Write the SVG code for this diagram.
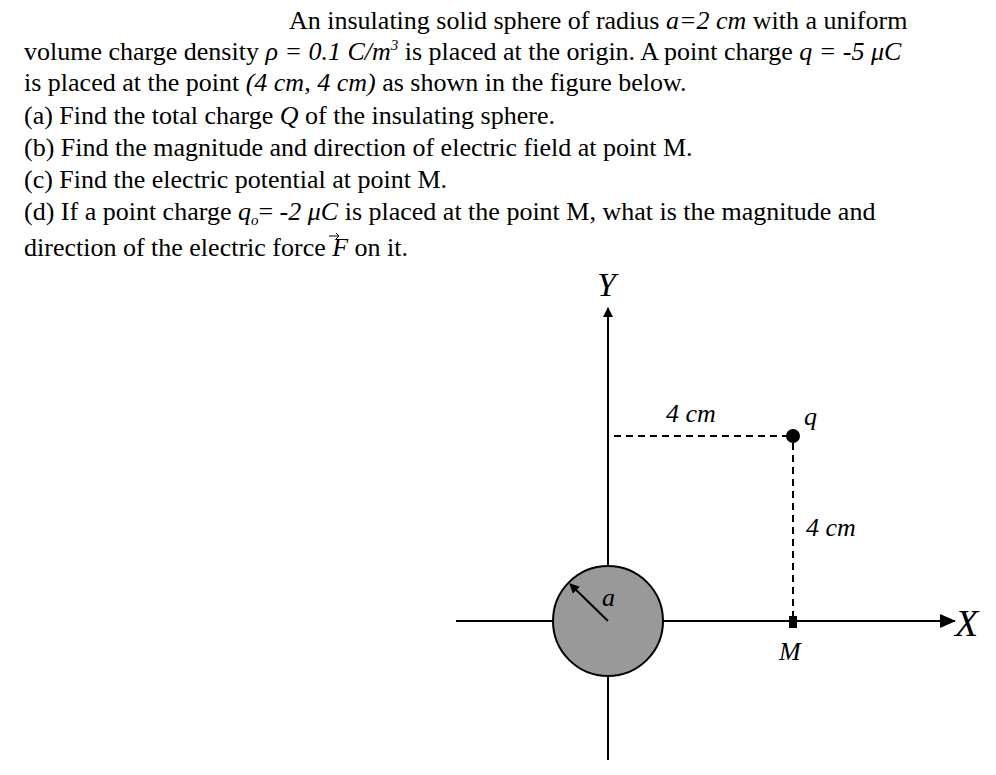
<svg xmlns="http://www.w3.org/2000/svg" width="996" height="775" viewBox="0 0 996 775">
<style>
text{font-family:"Liberation Serif",serif;fill:#000}
.t{font-size:26px}
.i{font-style:italic}
.ax{stroke:#000;stroke-width:2;fill:none}
.d{stroke:#000;stroke-width:2;stroke-dasharray:7,5;fill:none}
</style>
<defs>
<marker id="ah" markerWidth="10" markerHeight="10" refX="9" refY="5" orient="auto" markerUnits="userSpaceOnUse"><path d="M0,0 L10,5 L0,10 z" fill="#000"/></marker>
<marker id="ab" markerWidth="16" markerHeight="14" refX="15" refY="7" orient="auto" markerUnits="userSpaceOnUse"><path d="M0,0 L16,7 L0,14 z" fill="#000"/></marker>
</defs>
<g id="problem" class="t">
<text x="289" y="29">An insulating solid sphere of radius <tspan class="i">a=2 cm</tspan> with a uniform</text>
<text x="24" y="60">volume charge density <tspan class="i">ρ = 0.1 C/m</tspan><tspan class="i" font-size="15" dy="-10">3</tspan><tspan dy="10"> is placed at the origin. A point charge </tspan><tspan class="i">q = -5 μC</tspan></text>
<text x="24" y="91">is placed at the point <tspan class="i">(4 cm, 4 cm)</tspan> as shown in the figure below.</text>
<text x="24" y="124">(a) Find the total charge <tspan class="i">Q</tspan> of the insulating sphere.</text>
<text x="24" y="156">(b) Find the magnitude and direction of electric field at point M.</text>
<text x="24" y="188">(c) Find the electric potential at point M.</text>
<text x="24" y="220">(d) If a point charge <tspan class="i">q</tspan><tspan class="i" font-size="15" dy="5">o</tspan><tspan dy="-5">= </tspan><tspan class="i">-2 μC</tspan> is placed at the point M, what is the magnitude and</text>
<text x="24" y="256">direction of the electric force <tspan class="i">F</tspan> on it.</text>
<path d="M329,236 L339,236 M336,233 L339,236 L336,239" stroke="#000" stroke-width="1" fill="none"/>
</g>
<g id="connectors">
<line class="ax" x1="608" y1="760" x2="608" y2="308" marker-end="url(#ah)"/>
<line class="ax" x1="456" y1="621" x2="955" y2="621" marker-end="url(#ab)"/>
<line class="d" x1="614" y1="436" x2="788" y2="436"/>
<line class="d" x1="793" y1="443" x2="793" y2="616"/>
</g>
<g id="sphere">
<circle cx="608" cy="621" r="55" fill="#999" stroke="#000" stroke-width="2"/>
<line x1="608" y1="621" x2="570" y2="584" stroke="#000" stroke-width="2" marker-end="url(#ah)"/>
<text x="602" y="606" font-size="26" class="i">a</text>
</g>
<g id="charge">
<circle cx="793" cy="436" r="7" fill="#000"/>
<text x="804" y="425" font-size="26" class="i">q</text>
</g>
<g id="pointM">
<rect x="789" y="616" width="8" height="12" fill="#000"/>
<text x="779" y="660" font-size="26" class="i">M</text>
</g>
<g id="labels">
<text x="666" y="422" font-size="26" class="i">4 cm</text>
<text x="806" y="536" font-size="26" class="i">4 cm</text>
<text x="955" y="636" font-size="38" class="i">X</text>
<text x="597" y="296" font-size="34" class="i">Y</text>
</g>
</svg>
